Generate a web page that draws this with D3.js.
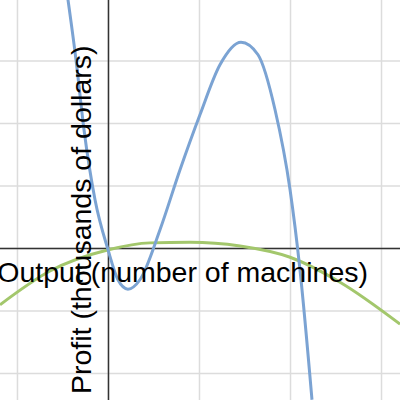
<!DOCTYPE html>
<html><head><meta charset="utf-8">
<script src="https://cdn.jsdelivr.net/npm/d3@7"></script>
<style>body{margin:0;background:#fff}svg{display:block}</style>
</head><body><div id="vis"></div>
<script>
// grid ticks in data units
var xTicks = [-1, 0, 1, 2, 3];
var yTicks = [-2, -1, 0, 1, 2, 3];

// blue curve (profit)
var blueX = [-0.445, -0.357, -0.269, -0.148, -0.005, 0.104, 0.214, 0.346, 0.566, 0.786, 1.005, 1.225, 1.456, 1.643, 1.830, 1.995, 2.104, 2.236];
var blueY = [3.98, 3.02, 1.90, 0.78, -0.02, -0.50, -0.65, -0.50, 0.30, 1.26, 2.14, 2.94, 3.30, 3.10, 2.22, 0.94, -0.34, -2.42];

// green curve
var greenX = [-1.192, -0.643, 0, 0.456, 0.896, 1.445, 1.995, 2.544, 3.203];
var greenY = [-0.90, -0.36, -0.02, 0.09, 0.10, 0.04, -0.14, -0.54, -1.21];

var W = 400, H = 400;
var x = d3.scaleLinear().domain([-1.192, 3.203]).range([0, W]);
var y = d3.scaleLinear().domain([-2.424, 3.976]).range([H, 0]);

var svg = d3.select("#vis").append("svg").attr("width", W).attr("height", H);

svg.append("g").selectAll("line").data(xTicks).join("line")
  .attr("x1", d => x(d)).attr("x2", d => x(d)).attr("y1", 0).attr("y2", H)
  .attr("stroke", "#dcdcdc").attr("stroke-width", 1.5);
svg.append("g").selectAll("line").data(yTicks).join("line")
  .attr("y1", d => y(d)).attr("y2", d => y(d)).attr("x1", 0).attr("x2", W)
  .attr("stroke", "#dcdcdc").attr("stroke-width", 1.5);

// axes
svg.append("line").attr("x1", 0).attr("x2", W).attr("y1", y(0)).attr("y2", y(0))
  .attr("stroke", "#333").attr("stroke-width", 1.5);
svg.append("line").attr("x1", x(0)).attr("x2", x(0)).attr("y1", 0).attr("y2", H)
  .attr("stroke", "#333").attr("stroke-width", 1.5);

var line = d3.line().x(d => x(d[0])).y(d => y(d[1])).curve(d3.curveMonotoneX);

svg.append("path").datum(d3.zip(greenX, greenY)).attr("d", line)
  .attr("fill", "none").attr("stroke", "#a3c76c").attr("stroke-width", 3);
svg.append("path").datum(d3.zip(blueX, blueY)).attr("d", line)
  .attr("fill", "none").attr("stroke", "#7ba3d3").attr("stroke-width", 3);

// labels
svg.append("text").attr("x", 368).attr("y", 282).attr("text-anchor", "end")
  .attr("font-family", "Liberation Sans, Arial, sans-serif").attr("font-size", 28.5)
  .text("Output (number of machines)");
svg.append("text").attr("transform", "translate(91,394) rotate(-90)")
  .attr("font-family", "Liberation Sans, Arial, sans-serif").attr("font-size", 28.5)
  .text("Profit (thousands of dollars)");
</script></body></html>
